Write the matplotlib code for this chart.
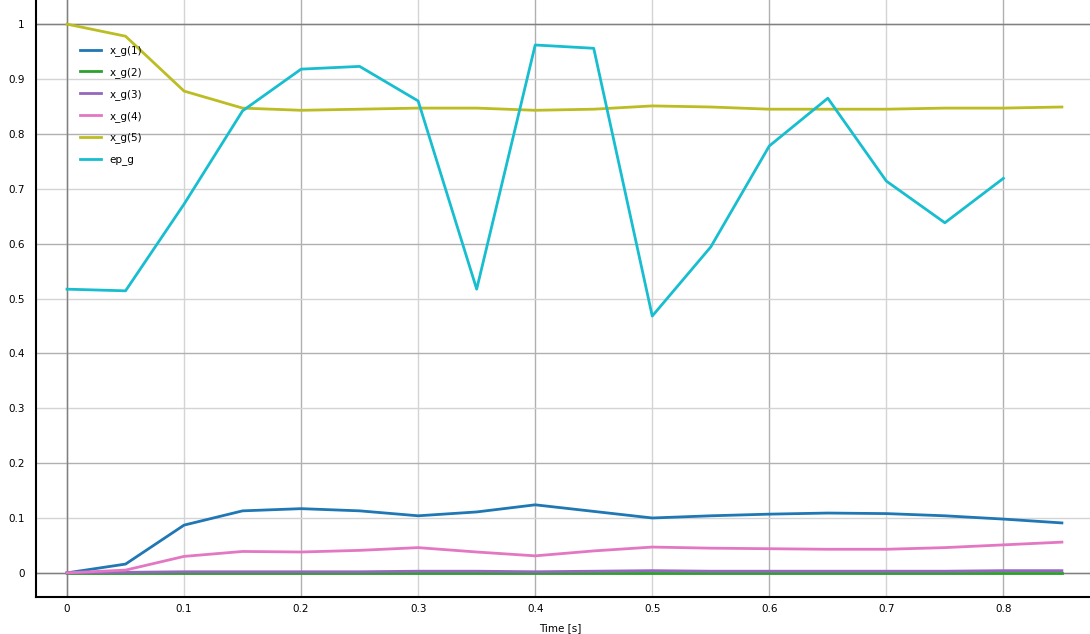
import matplotlib
matplotlib.use("Agg")
import matplotlib.pyplot as plt
import numpy as np

time = [0.0, 0.05, 0.1, 0.15, 0.2, 0.25, 0.3, 0.35, 0.4, 0.45, 0.5, 0.55, 0.6, 0.65, 0.7, 0.75, 0.8, 0.85]
x_g1 = [0.0, 0.016, 0.087, 0.113, 0.117, 0.113, 0.104, 0.111, 0.124, 0.112, 0.100, 0.104, 0.107, 0.109, 0.108, 0.104, 0.098, 0.091]
x_g2 = [0.0, 0.0, 0.0, 0.0, 0.0, 0.0, 0.0, 0.0, 0.0, 0.0, 0.0, 0.0, 0.0, 0.0, 0.0, 0.0, 0.0, 0.0]
x_g3 = [0.0, 0.001, 0.002, 0.002, 0.002, 0.002, 0.003, 0.003, 0.002, 0.003, 0.004, 0.003, 0.003, 0.003, 0.003, 0.003, 0.004, 0.004]
x_g4 = [0.0, 0.005, 0.030, 0.039, 0.038, 0.041, 0.046, 0.038, 0.031, 0.040, 0.047, 0.045, 0.044, 0.043, 0.043, 0.046, 0.051, 0.056]
x_g5 = [1.0, 0.978, 0.878, 0.847, 0.843, 0.845, 0.847, 0.847, 0.843, 0.845, 0.851, 0.849, 0.845, 0.845, 0.845, 0.847, 0.847, 0.849]
time_ep = time[:17]
ep_g = [0.517, 0.514, 0.672, 0.842, 0.918, 0.923, 0.860, 0.517, 0.962, 0.956, 0.468, 0.594, 0.778, 0.865, 0.714, 0.638, 0.719]

series = [
    ("x_g(1)", time, x_g1, "#1f77b4"),
    ("x_g(2)", time, x_g2, "#2ca02c"),
    ("x_g(3)", time, x_g3, "#9467bd"),
    ("x_g(4)", time, x_g4, "#e377c2"),
    ("x_g(5)", time, x_g5, "#bcbd22"),
    ("ep_g", time_ep, ep_g, "#17becf"),
]

fig = plt.figure(figsize=(10.9, 6.34), dpi=100)
ax = fig.add_axes([36/1090, 37/634, 1 - 36/1090, 1 - 37/634])

ax.set_xlim(-0.0265, 0.874)
ax.set_ylim(-0.044, 1.044)

# grid
for i in range(0, 9):
    v = i * 0.1
    c = "#b0b0b0" if i % 2 == 0 else "#d4d4d4"
    ax.axvline(v, color=c, lw=1, zorder=0)
for i in range(0, 11):
    v = i * 0.1
    c = "#b0b0b0" if i % 2 == 0 else "#d4d4d4"
    ax.axhline(v, color=c, lw=1, zorder=0)
ax.axvline(0, color="#808080", lw=1, zorder=0.5)
ax.axhline(0, color="#808080", lw=1, zorder=0.5)
ax.axhline(1, color="#808080", lw=1, zorder=0.5)

for name, t, y, c in series:
    ax.plot(t, y, color=c, lw=2, label=name)

ax.set_xticks([i * 0.1 for i in range(9)])
ax.set_xticklabels(["0"] + ["%.1f" % (i * 0.1) for i in range(1, 9)])
ax.set_yticks([i * 0.1 for i in range(11)])
ax.set_yticklabels(["0"] + ["%.1f" % (i * 0.1) for i in range(1, 10)] + ["1"])
ax.tick_params(axis="x", length=0, labelsize=7.5, pad=5)
ax.tick_params(axis="y", length=0, labelsize=7.5, pad=8)
for s in ["top", "right"]:
    ax.spines[s].set_visible(False)
ax.spines["left"].set_linewidth(1.5)
ax.spines["bottom"].set_linewidth(1.5)
fig.text(560/1090, 6/634, "Time [s]", fontsize=7.5, ha="center", va="center")

leg = ax.legend(loc="upper left", bbox_to_anchor=(0.033, 0.94), frameon=False,
                fontsize=7.5, handlelength=2.0, labelspacing=1.05, handletextpad=0.8)

fig.savefig("out.png", dpi=100)
